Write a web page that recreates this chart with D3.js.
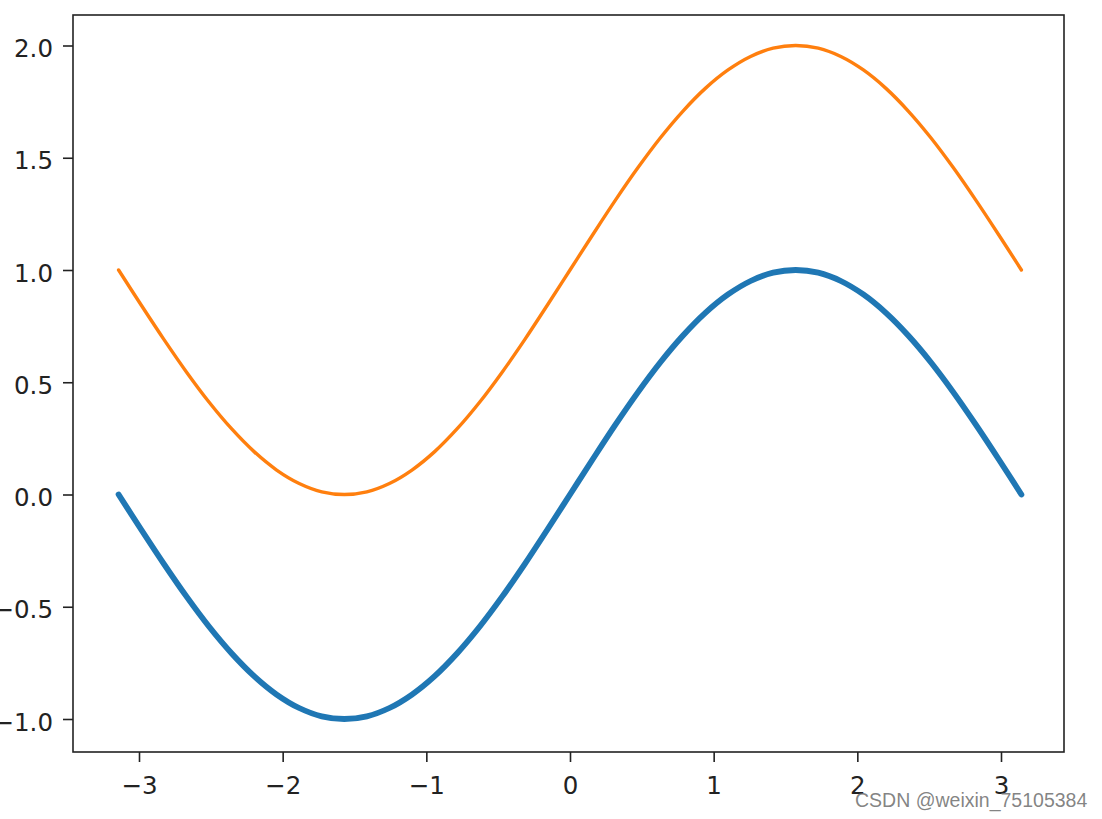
<!DOCTYPE html>
<html>
<head>
<meta charset="utf-8">
<script src="https://cdn.jsdelivr.net/npm/d3@7"></script>
<style>
  html, body { margin: 0; padding: 0; background: #fff; }
  svg { display: block; }
</style>
</head>
<body>
<svg id="chart" width="1102" height="819"></svg>
<script>
// Data
const xValues = [-3.142, -2.985, -2.827, -2.670, -2.513, -2.356, -2.199, -2.042, -1.885, -1.728, -1.571, -1.414, -1.257, -1.100, -0.942, -0.785, -0.628, -0.471, -0.314, -0.157, 0.000, 0.157, 0.314, 0.471, 0.628, 0.785, 0.942, 1.100, 1.257, 1.414, 1.571, 1.728, 1.885, 2.042, 2.199, 2.356, 2.513, 2.670, 2.827, 2.985, 3.142];
const blueValues = [0.000, -0.156, -0.309, -0.454, -0.588, -0.707, -0.809, -0.891, -0.951, -0.988, -1.000, -0.988, -0.951, -0.891, -0.809, -0.707, -0.588, -0.454, -0.309, -0.156, 0.000, 0.156, 0.309, 0.454, 0.588, 0.707, 0.809, 0.891, 0.951, 0.988, 1.000, 0.988, 0.951, 0.891, 0.809, 0.707, 0.588, 0.454, 0.309, 0.156, 0.000];
const orangeValues = [1.000, 0.844, 0.691, 0.546, 0.412, 0.293, 0.191, 0.109, 0.049, 0.012, 0.000, 0.012, 0.049, 0.109, 0.191, 0.293, 0.412, 0.546, 0.691, 0.844, 1.000, 1.156, 1.309, 1.454, 1.588, 1.707, 1.809, 1.891, 1.951, 1.988, 2.000, 1.988, 1.951, 1.891, 1.809, 1.707, 1.588, 1.454, 1.309, 1.156, 1.000];
const xTicks = [-3, -2, -1, 0, 1, 2, 3];
const yTicks = [-1.0, -0.5, 0.0, 0.5, 1.0, 1.5, 2.0];
const watermark = "CSDN @weixin_75105384";

const svg = d3.select("#chart");
const L = 73, R = 1064, T = 15, B = 752;

const x = d3.scaleLinear().domain([-3, 3]).range([139, 1001]);
const y = d3.scaleLinear().domain([-1, 2]).range([719, 45.5]);

const font = "'DejaVu Sans', sans-serif";
const fmtY = d3.format(".1f");
const fmtX = d3.format("d");

// Axes
const xAxis = svg.append("g")
  .attr("transform", `translate(0,${B})`)
  .call(d3.axisBottom(x).tickValues(xTicks).tickFormat(fmtX).tickSize(10).tickPadding(15));
const yAxis = svg.append("g")
  .attr("transform", `translate(${L},0)`)
  .call(d3.axisLeft(y).tickValues(yTicks).tickFormat(fmtY).tickSize(10).tickPadding(10));

[xAxis, yAxis].forEach(g => {
  g.select(".domain").remove();
  g.selectAll(".tick line").attr("stroke", "#222").attr("stroke-width", 1.6);
  g.selectAll(".tick text").attr("fill", "#222").style("font-family", font).style("font-size", "24.5px");
});
yAxis.selectAll(".tick text").attr("dy", "0.45em");

// Lines
const line = d3.line().curve(d3.curveCatmullRom);
const bluePts = xValues.map((v, i) => [x(v), y(blueValues[i])]);
const orangePts = xValues.map((v, i) => [x(v), y(orangeValues[i])]);

svg.append("path")
  .attr("d", line(orangePts))
  .attr("fill", "none")
  .attr("stroke", "#ff7f0e")
  .attr("stroke-width", 3.4)
  .attr("stroke-linecap", "round");

svg.append("path")
  .attr("d", line(bluePts))
  .attr("fill", "none")
  .attr("stroke", "#1f77b4")
  .attr("stroke-width", 5.8)
  .attr("stroke-linecap", "round");

// Frame
svg.append("rect")
  .attr("x", L).attr("y", T)
  .attr("width", R - L).attr("height", B - T)
  .attr("fill", "none")
  .attr("stroke", "#222")
  .attr("stroke-width", 1.6);

// Watermark
svg.append("text")
  .attr("x", 855).attr("y", 807)
  .attr("fill", "rgba(110,110,110,0.85)")
  .style("font-family", "'Liberation Sans', Arial, sans-serif")
  .style("font-size", "19.5px")
  .text(watermark);
</script>
</body>
</html>
